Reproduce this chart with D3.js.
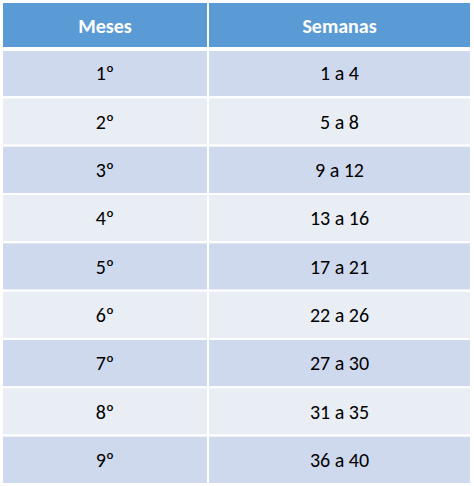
<!DOCTYPE html>
<html><head><meta charset="utf-8">
<script src="https://cdn.jsdelivr.net/npm/d3@7"></script>
<style>body{margin:0;background:#fff}</style>
</head><body>
<svg id="chart" width="474" height="486"></svg>
<script>
const headers = ['Meses', 'Semanas'];
const months = ['1º', '2º', '3º', '4º', '5º', '6º', '7º', '8º', '9º'];
const weeks = ['1 a 4', '5 a 8', '9 a 12', '13 a 16', '17 a 21', '22 a 26', '27 a 30', '31 a 35', '36 a 40'];

const svg = d3.select('#chart');
const left = 2, right = 471, split = 208, tableTop = 2, headH = 47, bottom = 484;

const x = d3.scaleOrdinal().domain([0, 1]).range([left, split]);
const w = [split - left, right - split];
const y = d3.scaleBand().domain(d3.range(months.length)).range([tableTop + headH, bottom]);

// header
headers.forEach((h, c) => {
  svg.append('rect').attr('x', x(c)).attr('y', tableTop).attr('width', w[c]).attr('height', headH)
    .attr('fill', '#5b9bd5').attr('stroke', '#fff').attr('stroke-width', 2);
  svg.append('text').attr('x', x(c) + w[c] / 2).attr('y', tableTop + headH / 2 + 7)
    .attr('text-anchor', 'middle').attr('fill', '#fff').attr('font-weight', 'bold')
    .attr('font-family', 'Carlito, Liberation Sans, sans-serif').attr('font-size', 20).text(h);
});

const rows = months.map((m, i) => [m, weeks[i]]);
rows.forEach((r, i) => {
  r.forEach((t, c) => {
    svg.append('rect').attr('x', x(c)).attr('y', y(i)).attr('width', w[c]).attr('height', y.bandwidth())
      .attr('fill', i % 2 ? '#e9edf4' : '#cfd9ee').attr('stroke', '#fff').attr('stroke-width', 2);
    svg.append('text').attr('x', x(c) + w[c] / 2).attr('y', y(i) + y.bandwidth() / 2 + 7)
      .attr('text-anchor', 'middle').attr('fill', '#000')
      .attr('font-family', 'Carlito, Liberation Sans, sans-serif').attr('font-size', 20).text(t);
  });
});
// thicker white line under header
svg.append('line').attr('x1', left).attr('x2', right).attr('y1', tableTop + headH).attr('y2', tableTop + headH)
  .attr('stroke', '#fff').attr('stroke-width', 4);
</script>
</body></html>
